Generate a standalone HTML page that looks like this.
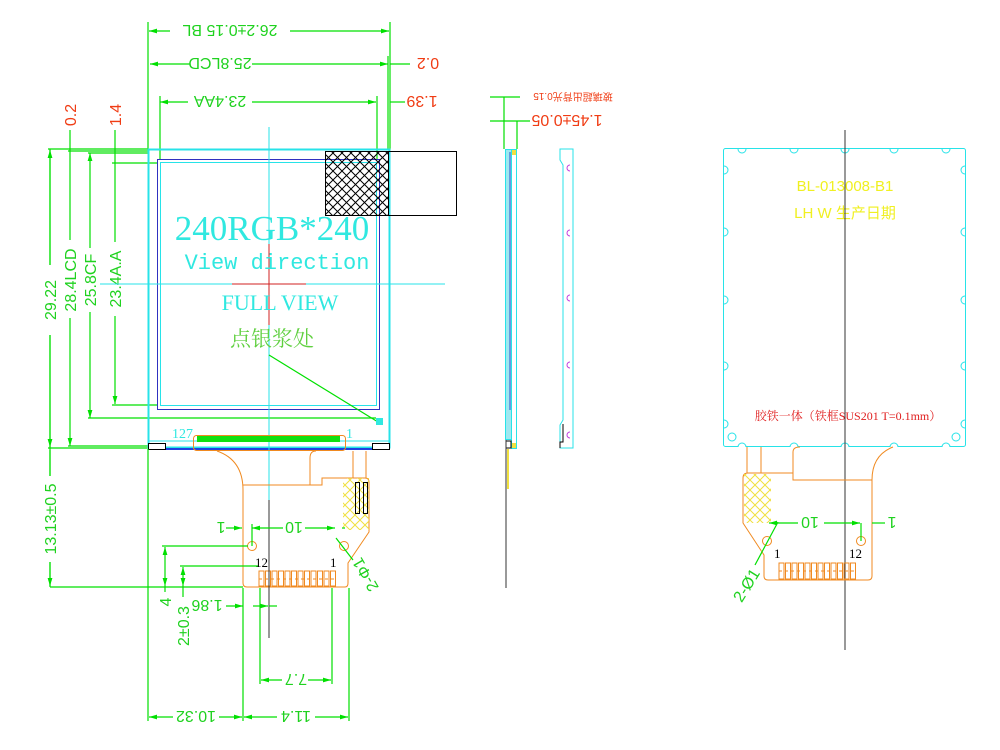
<!DOCTYPE html>
<html><head><meta charset="utf-8"><style>
html,body{margin:0;padding:0;background:#fff;width:1000px;height:750px;overflow:hidden}
svg{display:block}
.g{stroke:#00e000;fill:none;stroke-width:1.2}
.gt{fill:#1fd21f;font-family:"Liberation Sans",sans-serif;font-size:16px}
.rt{fill:#f03c14;font-family:"Liberation Sans",sans-serif;font-size:16px}
.c{stroke:#27e3e8;fill:none}
.o{stroke:#f08a20;fill:none}
</style></head><body>
<svg width="1000" height="750" viewBox="0 0 1000 750" xmlns="http://www.w3.org/2000/svg">
<defs>
<marker id="a" viewBox="0 0 10 6" refX="10" refY="3" markerWidth="10" markerHeight="4" orient="auto-start-reverse"><path d="M0,0L10,3L0,6z" fill="#00e000"/></marker>
<pattern id="hx" width="9" height="9" patternUnits="userSpaceOnUse"><path d="M0,0L9,9M9,0L0,9" stroke="#000" stroke-width="1"/></pattern>
<pattern id="hy" width="10" height="10" patternUnits="userSpaceOnUse"><path d="M0,0L10,10M10,0L0,10" stroke="#f0e040" stroke-width="1"/></pattern>
</defs>

<!-- top dims -->
<line class="g" x1="148" y1="22" x2="148" y2="150"/>
<line class="g" x1="390" y1="22" x2="390" y2="150" stroke-width="2"/>
<line class="g" x1="149" y1="31" x2="389" y2="31" marker-start="url(#a)" marker-end="url(#a)"/>
<rect x="170" y="22" width="120" height="18" fill="#fff"/>
<text class="gt" x="230" y="37" text-anchor="middle" transform="rotate(180 230 31)">26.2±0.15 BL</text>
<line class="g" x1="150" y1="64" x2="388" y2="64" marker-start="url(#a)" marker-end="url(#a)"/>
<line class="g" x1="388" y1="56" x2="388" y2="150"/>
<line class="g" x1="390" y1="64" x2="410" y2="64"/>
<rect x="190" y="56" width="62" height="18" fill="#fff"/>
<text class="gt" x="220" y="70" text-anchor="middle" transform="rotate(180 220 64)">25.8LCD</text>
<text class="rt" x="428" y="70" text-anchor="middle" transform="rotate(180 428 64)">0.2</text>
<line class="g" x1="160" y1="102" x2="376" y2="102" marker-start="url(#a)" marker-end="url(#a)"/>
<line class="g" x1="160" y1="96" x2="160" y2="160"/>
<line class="g" x1="377" y1="96" x2="377" y2="160"/>
<line class="g" x1="390" y1="102" x2="405" y2="102"/>
<rect x="188" y="94" width="64" height="18" fill="#fff"/>
<text class="gt" x="220" y="108" text-anchor="middle" transform="rotate(180 220 102)">23.4AA</text>
<text class="rt" x="422" y="108" text-anchor="middle" transform="rotate(180 422 102)">1.39</text>

<!-- left dims -->
<line class="g" x1="48" y1="149" x2="148" y2="149"/>
<line class="g" x1="68" y1="151" x2="148" y2="151" stroke-width="2.5"/>
<line class="g" x1="88" y1="153" x2="148" y2="153"/>
<line class="g" x1="112" y1="163" x2="158" y2="163"/>
<line class="g" x1="50" y1="149" x2="50" y2="587" />
<line class="g" x1="50" y1="150" x2="50" y2="447" marker-start="url(#a)" marker-end="url(#a)"/>
<line class="g" x1="70" y1="130" x2="70" y2="446" marker-end="url(#a)"/>
<line class="g" x1="90" y1="153" x2="90" y2="418" marker-start="url(#a)" marker-end="url(#a)"/>
<line class="g" x1="115" y1="130" x2="115" y2="404" marker-end="url(#a)"/>
<line class="g" x1="48" y1="448" x2="148" y2="448"/>
<line class="g" x1="68" y1="446" x2="148" y2="446"/>
<line class="g" x1="88" y1="418" x2="376" y2="418"/>
<line class="g" x1="112" y1="405" x2="158" y2="405"/>
<rect x="42" y="265" width="16" height="70" fill="#fff"/>
<text class="gt" x="50" y="306" text-anchor="middle" transform="rotate(-90 50 300)">29.22</text>
<rect x="62" y="240" width="16" height="78" fill="#fff"/>
<text class="gt" x="70" y="286" text-anchor="middle" transform="rotate(-90 70 280)">28.4LCD</text>
<rect x="82" y="248" width="16" height="64" fill="#fff"/>
<text class="gt" x="90" y="286" text-anchor="middle" transform="rotate(-90 90 280)">25.8CF</text>
<rect x="107" y="242" width="16" height="74" fill="#fff"/>
<text class="gt" x="115" y="285" text-anchor="middle" transform="rotate(-90 115 279)">23.4A.A</text>
<text class="rt" x="70" y="121" text-anchor="middle" transform="rotate(-90 70 115)">0.2</text>
<text class="rt" x="115" y="121" text-anchor="middle" transform="rotate(-90 115 115)">1.4</text>

<!-- module body -->
<rect x="148.5" y="149.5" width="241" height="298" class="c" stroke-width="2"/>
<rect x="157.5" y="159.5" width="222" height="250" stroke="#3030c0" fill="none"/>
<rect x="160.5" y="162.5" width="216" height="243" class="c"/>
<line class="c" x1="148" y1="441" x2="390" y2="441"/>
<line x1="165" y1="449" x2="373" y2="449" stroke="#2040e0" stroke-width="2"/>
<rect x="148.5" y="443.5" width="17" height="6" fill="#fff" stroke="#000"/>
<rect x="372.5" y="443.5" width="17" height="6" fill="#fff" stroke="#000"/>
<rect x="325.5" y="151.5" width="131" height="64" fill="none" stroke="#000"/>
<rect x="325.5" y="151.5" width="63" height="64" fill="url(#hx)" stroke="#000"/>
<line class="c" x1="269" y1="127" x2="269" y2="500"/>
<line class="c" x1="100" y1="284" x2="445" y2="284"/>
<line x1="232" y1="284" x2="306" y2="284" stroke="#d02020"/>
<line x1="269" y1="244" x2="269" y2="325" stroke="#d02020"/>
<text x="272" y="240" text-anchor="middle" fill="#30e8e0" font-family="Liberation Serif,serif" font-size="35">240RGB*240</text>
<text x="277" y="269" text-anchor="middle" fill="#30e8e0" font-family="Liberation Mono,monospace" font-size="22">View direction</text>
<text x="280" y="310" text-anchor="middle" fill="#30e8e0" font-family="Liberation Serif,serif" font-size="22">FULL VIEW</text>
<text x="272" y="346" text-anchor="middle" fill="#60d040" font-family="Liberation Serif,'Noto Serif CJK SC',serif" font-size="21">点银浆处</text>
<line class="g" x1="269" y1="355" x2="378" y2="422"/>
<rect x="376" y="418" width="7" height="7" fill="#30e8e0"/>
<text x="172" y="438" fill="#30e8e0" font-family="Liberation Serif,serif" font-size="14">127</text>
<text x="346" y="438" fill="#30e8e0" font-family="Liberation Serif,serif" font-size="14">1</text>

<!-- FPC -->
<rect x="193.5" y="435.5" width="152" height="15" rx="3" class="o"/>
<rect x="197" y="436" width="143" height="6" fill="#10e010"/>
<path class="o" d="M217,451 Q243,460 243,490 L243,583 Q243,587 247,587 L345,587 Q348,587 348,583 L348,563 L369,532 L369,482 Q369,478 365,478 L322,478 L322,485 L310,485 L310,458 Q310,451 316,451"/>
<line class="o" x1="243" y1="485" x2="310" y2="485"/>
<line class="o" x1="353" y1="451" x2="353" y2="478"/>
<line class="o" x1="366" y1="451" x2="366" y2="478"/>
<rect x="343" y="478" width="26" height="52" fill="url(#hy)"/>
<rect x="355.5" y="482.5" width="4" height="31" fill="none" stroke="#000"/>
<rect x="363.5" y="482.5" width="4" height="31" fill="none" stroke="#000"/>
<circle cx="252" cy="546" r="4.5" class="o"/>
<circle cx="344" cy="546" r="4.5" class="o"/>
<g fill="none" stroke="#f08a20">
<rect x="259" y="571" width="5" height="15"/><rect x="265.5" y="571" width="5" height="15"/><rect x="272" y="571" width="5" height="15"/><rect x="278.5" y="571" width="5" height="15"/><rect x="285" y="571" width="5" height="15"/><rect x="291.5" y="571" width="5" height="15"/><rect x="298" y="571" width="5" height="15"/><rect x="304.5" y="571" width="5" height="15"/><rect x="311" y="571" width="5" height="15"/><rect x="317.5" y="571" width="5" height="15"/><rect x="324" y="571" width="5" height="15"/><rect x="330.5" y="571" width="5" height="15"/>
</g>
<line x1="259" y1="579" x2="335" y2="579" stroke="#f08a20" stroke-dasharray="3 3"/>
<text x="255" y="567" font-family="Liberation Serif,serif" font-size="13">12</text>
<text x="330" y="567" font-family="Liberation Serif,serif" font-size="13">1</text>
<line x1="269" y1="500" x2="269" y2="638" stroke="#333"/>

<!-- FPC dims -->
<line class="g" x1="226" y1="528" x2="242" y2="528" marker-end="url(#a)"/>
<line class="g" x1="252" y1="528" x2="335" y2="528" marker-start="url(#a)" marker-end="url(#a)"/>
<line class="g" x1="252" y1="524" x2="252" y2="546"/>
<line class="g" x1="342" y1="528" x2="345" y2="528"/>
<rect x="283" y="519" width="22" height="18" fill="#fff"/>
<text class="gt" x="294" y="534" text-anchor="middle" transform="rotate(180 294 528)">10</text>
<text class="gt" x="221" y="534" text-anchor="middle" transform="rotate(180 221 528)">1</text>
<line class="g" x1="336" y1="538" x2="353" y2="560"/>
<text class="gt" x="365" y="581" text-anchor="middle" transform="rotate(240 365 575)">2-Φ1</text>
<line class="g" x1="162" y1="546" x2="248" y2="546"/>
<line class="g" x1="180" y1="566" x2="258" y2="566"/>
<line class="g" x1="50" y1="587" x2="243" y2="587"/>
<line class="g" x1="50" y1="450" x2="50" y2="586" marker-end="url(#a)"/>
<rect x="42" y="476" width="16" height="86" fill="#fff"/>
<text class="gt" x="50" y="525" text-anchor="middle" transform="rotate(-90 50 519)">13.13±0.5</text>
<line class="g" x1="165" y1="547" x2="165" y2="586" marker-start="url(#a)" marker-end="url(#a)"/>
<line class="g" x1="165" y1="586" x2="165" y2="592"/>
<text class="gt" x="165" y="608" text-anchor="middle" transform="rotate(-90 165 602)">4</text>
<line class="g" x1="183" y1="567" x2="183" y2="586" marker-start="url(#a)" marker-end="url(#a)"/>
<line class="g" x1="183" y1="586" x2="183" y2="597"/>
<text class="gt" x="183" y="632" text-anchor="middle" transform="rotate(-90 183 626)">2±0.3</text>
<line class="g" x1="226" y1="606" x2="243" y2="606" marker-end="url(#a)"/>
<line class="g" x1="269" y1="606" x2="277" y2="606"/>
<line class="g" x1="253" y1="606" x2="268" y2="606" marker-end="url(#a)"/>
<text class="gt" x="207" y="612" text-anchor="middle" transform="rotate(180 207 606)">1.86</text>
<line class="g" x1="260" y1="588" x2="260" y2="684"/>
<line class="g" x1="332" y1="588" x2="332" y2="684"/>
<line class="g" x1="261" y1="680" x2="331" y2="680" marker-start="url(#a)" marker-end="url(#a)"/>
<rect x="282" y="671" width="26" height="18" fill="#fff"/>
<text class="gt" x="296" y="686" text-anchor="middle" transform="rotate(180 296 680)">7.7</text>
<line class="g" x1="148" y1="449" x2="148" y2="721"/>
<line class="g" x1="243" y1="588" x2="243" y2="721"/>
<line class="g" x1="349" y1="588" x2="349" y2="721"/>
<line class="g" x1="149" y1="717" x2="242" y2="717" marker-start="url(#a)" marker-end="url(#a)"/>
<line class="g" x1="244" y1="717" x2="348" y2="717" marker-start="url(#a)" marker-end="url(#a)"/>
<rect x="173" y="708" width="46" height="18" fill="#fff"/>
<text class="gt" x="196" y="723" text-anchor="middle" transform="rotate(180 196 717)">10.32</text>
<rect x="277" y="708" width="38" height="18" fill="#fff"/>
<text class="gt" x="296" y="723" text-anchor="middle" transform="rotate(180 296 717)">11.4</text>

<!-- side views -->
<line class="g" x1="490" y1="97" x2="520" y2="97" />
<line class="g" x1="490" y1="121" x2="530" y2="121" />
<line class="g" x1="504" y1="97" x2="504" y2="149" stroke-width="2"/>
<line class="g" x1="517" y1="121" x2="517" y2="149"/>
<text x="573" y="101" text-anchor="middle" fill="#f03c14" font-size="10" font-family="'Liberation Sans','Noto Sans CJK SC',sans-serif" transform="rotate(180 573 97)">玻璃超出背光0.15</text>
<text class="rt" x="567" y="127" text-anchor="middle" transform="rotate(180 567 121)">1.45±0.05</text>
<rect x="505.5" y="149.5" width="6" height="290" fill="#9ee8f0" stroke="#27e3e8"/>
<rect x="511.5" y="149.5" width="5" height="299" fill="none" stroke="#27e3e8"/>
<line x1="510" y1="152" x2="510" y2="410" stroke="#3050d0"/>
<rect x="512" y="150" width="4" height="5" fill="#f0e040"/>
<rect x="512" y="443" width="4" height="5" fill="#f0e040"/>
<rect x="506" y="441" width="5" height="7" fill="none" stroke="#000"/>
<rect x="507" y="449" width="2" height="40" fill="#f0e040"/>
<line x1="506" y1="440" x2="506" y2="588" stroke="#333"/>
<path class="c" d="M560,149 L573,149 L573,448 L560,448 L560,425 L563,420 L563,165 L560,160 Z"/>
<path d="M570,165a3,3 0 0 0 0,6M570,230a3,3 0 0 0 0,6M570,295a3,3 0 0 0 0,6M570,362a3,3 0 0 0 0,6M570,432a3,3 0 0 0 0,6" stroke="#c040e0" fill="none"/>
<path d="M560,448 L560,442 L563,442 L563,424" stroke="#000" fill="none"/>

<!-- back view -->
<rect x="723.5" y="148.5" width="242" height="298" rx="2" class="c"/>
<g fill="#fff" stroke="#27e3e8">
<path d="M738,149a4,4 0 0 0 8,0M790,149a4,4 0 0 0 8,0M841,149a4,4 0 0 0 8,0M890,149a4,4 0 0 0 8,0M942,149a4,4 0 0 0 8,0"/>
<path d="M738,447a4,4 0 0 1 8,0M790,447a4,4 0 0 1 8,0M841,447a4,4 0 0 1 8,0M890,447a4,4 0 0 1 8,0M942,447a4,4 0 0 1 8,0"/>
<path d="M724,166a4,4 0 0 1 0,8M724,228a4,4 0 0 1 0,8M724,296a4,4 0 0 1 0,8M724,362a4,4 0 0 1 0,8M724,420a4,4 0 0 1 0,8"/>
<path d="M965,166a4,4 0 0 0 0,8M965,228a4,4 0 0 0 0,8M965,296a4,4 0 0 0 0,8M965,362a4,4 0 0 0 0,8M965,420a4,4 0 0 0 0,8"/>
<circle cx="732" cy="437" r="4"/><circle cx="956" cy="437" r="4"/>
</g>
<text x="845" y="191" text-anchor="middle" fill="#f0f020" font-family="Liberation Sans,sans-serif" font-size="15">BL-013008-B1</text>
<text x="845" y="218" text-anchor="middle" fill="#f0f020" font-family="'Liberation Sans','Noto Sans CJK SC',sans-serif" font-size="15">LH W 生产日期</text>
<text x="848" y="420" text-anchor="middle" fill="#e02020" font-family="'Liberation Serif','Noto Serif CJK SC',serif" font-size="12">胶铁一体（铁框SUS201 T=0.1mm）</text>
<line x1="845" y1="130" x2="845" y2="650" stroke="#333"/>
<path class="o" d="M893,447 Q872,455 872,480 L872,576 Q872,580 868,580 L768,580 Q764,580 764,576 L764,555 L743,523 L743,478 Q743,473 748,473 L793,473 L793,480 L872,480"/>
<path class="o" d="M793,473 L793,452 Q793,447 800,447"/>
<line class="o" x1="747" y1="447" x2="747" y2="473"/>
<line class="o" x1="761" y1="447" x2="761" y2="473"/>
<rect x="744" y="474" width="27" height="49" fill="url(#hy)"/>
<circle cx="767" cy="541" r="4.5" class="o"/>
<circle cx="861" cy="541" r="4.5" class="o"/>
<g fill="none" stroke="#f08a20">
<rect x="779" y="563" width="5" height="16"/><rect x="785.5" y="563" width="5" height="16"/><rect x="792" y="563" width="5" height="16"/><rect x="798.5" y="563" width="5" height="16"/><rect x="805" y="563" width="5" height="16"/><rect x="811.5" y="563" width="5" height="16"/><rect x="818" y="563" width="5" height="16"/><rect x="824.5" y="563" width="5" height="16"/><rect x="831" y="563" width="5" height="16"/><rect x="837.5" y="563" width="5" height="16"/><rect x="844" y="563" width="5" height="16"/><rect x="850.5" y="563" width="5" height="16"/>
</g>
<line x1="779" y1="571" x2="855" y2="571" stroke="#f08a20" stroke-dasharray="3 3"/>
<text x="774" y="558" font-family="Liberation Serif,serif" font-size="13">1</text>
<text x="849" y="558" font-family="Liberation Serif,serif" font-size="13">12</text>
<line class="g" x1="769" y1="523" x2="860" y2="523" marker-start="url(#a)" marker-end="url(#a)"/>
<line class="g" x1="861" y1="523" x2="861" y2="541"/>
<line class="g" x1="872" y1="523" x2="885" y2="523"/>
<rect x="798" y="514" width="26" height="18" fill="#fff"/>
<text class="gt" x="810" y="529" text-anchor="middle" transform="rotate(180 810 523)">10</text>
<text class="gt" x="892" y="529" text-anchor="middle" transform="rotate(180 892 523)">1</text>
<line class="g" x1="778" y1="522" x2="755" y2="565"/>
<text class="gt" x="746" y="591" text-anchor="middle" transform="rotate(-58 746 585)">2-Ø1</text>
</svg>
</body></html>
